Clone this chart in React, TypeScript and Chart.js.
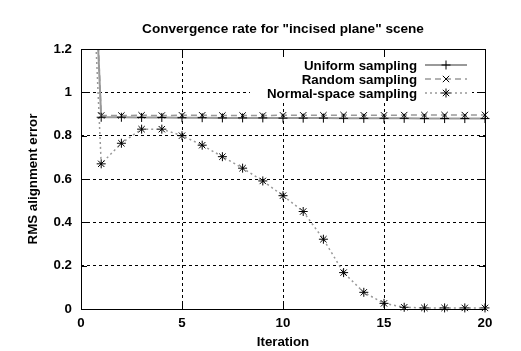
import React, { useEffect, useRef } from "react";
import { Chart, registerables } from "chart.js";

Chart.register(...registerables);

const TITLE = 'Convergence rate for "incised plane" scene';
const X_LABEL = "Iteration";
const Y_LABEL = "RMS alignment error";
const SERIES_NAMES = ["Uniform sampling", "Random sampling", "Normal-space sampling"];

const iterations = [0, 1, 2, 3, 4, 5, 6, 7, 8, 9, 10, 11, 12, 13, 14, 15, 16, 17, 18, 19, 20];
const uniformErr = [3.0, 0.885, 0.885, 0.884, 0.884, 0.883, 0.883, 0.882, 0.882, 0.882, 0.881, 0.881, 0.881, 0.88, 0.88, 0.88, 0.88, 0.879, 0.879, 0.879, 0.879];
const randomErr = [3.2, 0.893, 0.893, 0.894, 0.893, 0.894, 0.894, 0.893, 0.893, 0.893, 0.894, 0.894, 0.894, 0.895, 0.894, 0.894, 0.895, 0.895, 0.895, 0.895, 0.896];
const normalErr = [2.8, 0.67, 0.765, 0.83, 0.83, 0.8, 0.756, 0.703, 0.65, 0.591, 0.523, 0.45, 0.322, 0.168, 0.077, 0.026, 0.008, 0.005, 0.005, 0.005, 0.005];

const xTickLabels = ["0", "5", "10", "15", "20"];
const yTickLabels = ["0", "0.2", "0.4", "0.6", "0.8", "1", "1.2"];

const FONT_FAMILY = '"Liberation Sans", Arial, sans-serif';
const FONT_SIZE = 13.3;
const TITLE_SIZE = 13.6;
const LINE_GRAY = "#999999";
const styles = [
  { dash: [] as number[], width: 2, point: "cross" },
  { dash: [6, 4], width: 1.5, point: "crossRot" },
  { dash: [2, 3], width: 1.5, point: "star" },
];

function drawMarker(ctx: CanvasRenderingContext2D, style: string, x: number, y: number, r: number) {
  ctx.beginPath();
  const plus = () => {
    ctx.moveTo(x - r, y);
    ctx.lineTo(x + r, y);
    ctx.moveTo(x, y - r);
    ctx.lineTo(x, y + r);
  };
  const cross = () => {
    const d = r * Math.SQRT1_2;
    ctx.moveTo(x - d, y - d);
    ctx.lineTo(x + d, y + d);
    ctx.moveTo(x - d, y + d);
    ctx.lineTo(x + d, y - d);
  };
  if (style === "cross") plus();
  else if (style === "crossRot") cross();
  else {
    plus();
    cross();
  }
  ctx.stroke();
}

const framePlugin = {
  id: "gnuFrame",
  afterDatasetsDraw(chart: any) {
    const { ctx } = chart;
    // opaque key box
    const box = { left: 250, right: 472, top: 57, bottom: 101 };
    ctx.save();
    ctx.fillStyle = "#ffffff";
    ctx.fillRect(box.left, box.top, box.right - box.left, box.bottom - box.top);
    ctx.font = `bold ${FONT_SIZE}px ${FONT_FAMILY}`;
    ctx.textAlign = "right";
    ctx.textBaseline = "middle";
    const rows = [65, 79, 93];
    SERIES_NAMES.forEach((name, i) => {
      const y = rows[i];
      ctx.fillStyle = "#000000";
      ctx.fillText(name, 417, y + 1);
      ctx.strokeStyle = LINE_GRAY;
      ctx.lineWidth = styles[i].width;
      ctx.setLineDash(styles[i].dash);
      ctx.beginPath();
      ctx.moveTo(425, y);
      ctx.lineTo(467, y);
      ctx.stroke();
      ctx.setLineDash([]);
      ctx.strokeStyle = "#000000";
      ctx.lineWidth = 1;
      drawMarker(ctx, styles[i].point, 446, y, 4.5);
    });
    ctx.restore();
  },
  afterDraw(chart: any) {
    const { ctx, chartArea, scales } = chart;
    const { left, right, top, bottom } = chartArea;
    ctx.save();
    ctx.strokeStyle = "#000000";
    ctx.lineWidth = 1;
    ctx.setLineDash([]);
    ctx.beginPath();
    const tl = 6;
    scales.x.ticks.forEach((t: any) => {
      const px = Math.round(scales.x.getPixelForValue(t.value)) + 0.5;
      ctx.moveTo(px, bottom);
      ctx.lineTo(px, bottom - tl);
      ctx.moveTo(px, top);
      ctx.lineTo(px, top + tl);
    });
    scales.y.ticks.forEach((t: any) => {
      const py = Math.round(scales.y.getPixelForValue(t.value)) + 0.5;
      ctx.moveTo(left, py);
      ctx.lineTo(left + tl, py);
      ctx.moveTo(right, py);
      ctx.lineTo(right - tl, py);
    });
    ctx.stroke();
    ctx.strokeRect(Math.round(left) + 0.5, Math.round(top) + 0.5, Math.round(right - left), Math.round(bottom - top));
    // title centred over the plot
    ctx.fillStyle = "#000000";
    ctx.font = `bold ${TITLE_SIZE}px ${FONT_FAMILY}`;
    ctx.textAlign = "center";
    ctx.textBaseline = "middle";
    ctx.fillText(TITLE, (left + right) / 2, 29);
    ctx.restore();
  },
};

export default function App() {
  const canvasRef = useRef<HTMLCanvasElement | null>(null);

  useEffect(() => {
    const canvas = canvasRef.current;
    if (!canvas) return;
    const mk = (vals: number[]) => iterations.map((x, i) => ({ x, y: vals[i] }));
    const seriesValues = [uniformErr, randomErr, normalErr];
    const font = { family: FONT_FAMILY, size: FONT_SIZE, weight: "bold" as const, lineHeight: 1.2 };

    const chart = new Chart(canvas, {
      type: "line",
      data: {
        datasets: seriesValues.map((vals, i) => ({
          label: SERIES_NAMES[i],
          data: mk(vals),
          borderColor: LINE_GRAY,
          borderWidth: styles[i].width,
          borderDash: styles[i].dash,
          pointStyle: styles[i].point as any,
          pointRadius: 4.5,
          pointBorderColor: "#000000",
          pointBackgroundColor: "#000000",
          pointBorderWidth: 1,
          tension: 0,
          fill: false,
          clip: { left: 0, top: 0, right: 8, bottom: 8 } as any,
        })),
      },
      options: {
        animation: false,
        responsive: false,
        devicePixelRatio: 1,
        layout: { padding: { left: 0, right: 36, top: 49, bottom: 0 } },
        plugins: {
          legend: { display: false },
          tooltip: { enabled: false },
          title: { display: false },
        },
        scales: {
          x: {
            type: "linear",
            min: 0,
            max: 20,
            afterFit: (s: any) => {
              s.height = 42;
            },
            ticks: {
              stepSize: 5,
              color: "#000000",
              font,
              padding: 6,
              maxRotation: 0,
              callback: (v: any) => xTickLabels[Math.round(Number(v) / 5)] ?? "",
            },
            grid: { color: "#000000", lineWidth: 1, drawTicks: false },
            border: { display: false, dash: [3, 3] },
            title: {
              display: true,
              text: X_LABEL,
              color: "#000000",
              font,
              padding: { top: 0, bottom: 0.5 },
            },
          },
          y: {
            type: "linear",
            min: 0,
            max: 1.2,
            afterFit: (s: any) => {
              s.width = 81;
            },
            ticks: {
              stepSize: 0.2,
              color: "#000000",
              font,
              padding: 9,
              callback: (v: any) => yTickLabels[Math.round(Number(v) / 0.2)] ?? "",
            },
            grid: { color: "#000000", lineWidth: 1, drawTicks: false },
            border: { display: false, dash: [3, 3] },
            title: {
              display: true,
              text: Y_LABEL,
              color: "#000000",
              font,
              padding: { top: 25, bottom: 0 },
            },
          },
        },
      },
      plugins: [framePlugin],
    });
    return () => chart.destroy();
  }, []);

  return (
    <div style={{ position: "fixed", left: 0, top: 0, width: 521, height: 351, background: "#ffffff" }}>
      <canvas ref={canvasRef} width={521} height={351} />
    </div>
  );
}
